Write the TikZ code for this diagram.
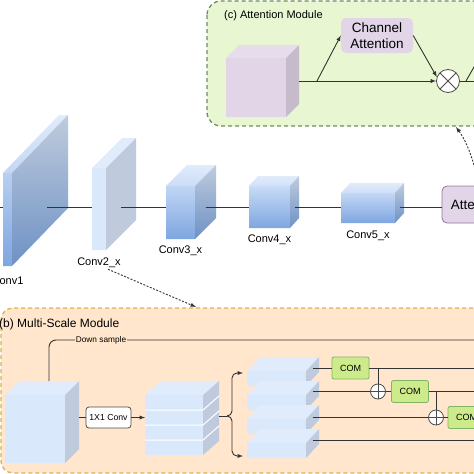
\documentclass[tikz,border=0pt]{standalone}
\usepackage{fontspec}
\setmainfont{Liberation Sans}
\usetikzlibrary{positioning}

\definecolor{blueA}{HTML}{DAE8FC}
\definecolor{blueB}{HTML}{7EA6E0}
\definecolor{purp}{HTML}{E1D5E7}
\definecolor{purpline}{HTML}{9673A6}
\definecolor{greenbg}{HTML}{E8F7D2}
\definecolor{greenline}{HTML}{6F8F55}
\definecolor{orangebg}{HTML}{FFE6CC}
\definecolor{orangeline}{HTML}{D6B656}
\definecolor{comfill}{HTML}{CDEB8B}
\definecolor{comline}{HTML}{82B366}

% cube: name, x, y (front top left), width, height, depth x, depth y, look
\newcommand{\blockcube}[8]{%
    \path[#8] (#2,#3) -- ++(#6,-#7) -- ++(#4,0) -- ++(0,#5) -- ++(-#6,#7) -- ++(-#4,0) -- cycle;
    \fill[black, opacity=.12] ({#2+#4},#3) -- ++(#6,-#7) -- ++(0,#5) -- ++(-#6,#7) -- cycle;
    \fill[white, opacity=.18] (#2,#3) -- ++(#6,-#7) -- ++(#4,0) -- ++(-#6,#7) -- cycle;
    \node[inner sep=0pt, outer sep=0pt, minimum width=#4, minimum height=#5] (#1) at ({#2+#4/2},{#3+#5/2}) {};
    \coordinate (#1-out) at ({#2+#4+#6/2},{#3+#5/2-#7/2});
    \coordinate (#1-rim) at ({#2+#4+#6},{#3+#5/2-#7/2});
}

\begin{document}
\begin{tikzpicture}[x=1pt, y=-1pt,
    lbl/.style={font=\fontsize{11}{13}\selectfont, inner sep=1pt},
    link/.style={draw=black!80, line width=0.9pt},
    dotlink/.style={draw=black!80, line width=0.9pt, dash pattern=on 2pt off 1.5pt, -latex},
    bluecube/.style={top color=blueA, bottom color=blueB},
    greenpanel/.style={draw=greenline, fill=greenbg, line width=1.3pt, dash pattern=on 4pt off 3pt, rounded corners=14},
    orangepanel/.style={draw=orangeline, fill=orangebg, line width=1.3pt, dash pattern=on 4pt off 3pt, rounded corners=12},
    purpbox/.style={fill=purp, rounded corners=5, align=center, font=\fontsize{13.5}{16}\selectfont},
    attbox/.style={fill=purp, draw=purpline, line width=0.8pt, rounded corners=5, font=\fontsize{13.5}{16}\selectfont},
    convbox/.style={fill=white, draw=black!70, line width=0.8pt, rounded corners=3, minimum width=45, minimum height=21, inner sep=0pt, font=\fontsize{8.7}{10}\selectfont},
    combox/.style={fill=comfill, draw=comline, line width=0.8pt, rounded corners=2, minimum width=37, minimum height=22, inner sep=0pt, font=\fontsize{9}{10}\selectfont},
    mulop/.style={circle, draw=black!70, fill=white, line width=0.8pt, minimum size=23, inner sep=0pt,
        path picture={\draw[black!70, line width=0.8pt] (path picture bounding box.north west) -- (path picture bounding box.south east)
            (path picture bounding box.north east) -- (path picture bounding box.south west);}},
    addop/.style={circle, draw=black!70, fill=white, line width=0.8pt, minimum size=15, inner sep=0pt,
        path picture={\draw[black!70, line width=0.8pt] (path picture bounding box.north) -- (path picture bounding box.south)
            (path picture bounding box.west) -- (path picture bounding box.east);}}]
    \useasboundingbox (0,0) rectangle (474,474);
    \clip (0,0) rectangle (474,474);

    % (c) attention module
    \draw[greenpanel] (207,1) rectangle (520,126);
    \node[lbl, anchor=west] (ctitle) at (223,16) {(c) Attention Module};
    \blockcube{feat}{226}{58}{60}{59}{13}{13}{fill=purp}
    \node[purpbox, minimum width=72, minimum height=35] (ca) at (377,35.5) {Channel\\Attention};
    \node[mulop] (mul) at (448,81) {};
    \coordinate (fork) at (317,81);
    \coordinate (cbend) at (466,81);
    \coordinate (cup) at (482,53);
    \coordinate (cend) at (480,81);
    \draw[link, -latex] (feat-rim |- mul) -- (mul);
    \draw[link, -latex] (fork) -- (ca.west);
    \draw[link, -latex] (ca.east) -- (mul.160);
    \draw[link] (mul) -- (cend);
    \draw[link] (cbend) -- (cup);

    % backbone
    \pgfmathsetmacro{\spiney}{207}; % main line
    \coordinate (spine) at (-5,\spiney);
    \blockcube{c1}{3}{173}{9}{93}{56}{58}{bluecube}
    \blockcube{c2}{92}{168}{14}{82}{30}{30}{fill=blueA}
    \blockcube{c3}{166}{186}{29}{53}{21}{21}{bluecube}
    \blockcube{c4}{249}{186}{41}{42}{9}{10}{bluecube}
    \blockcube{c5}{341}{193}{54}{30}{9}{10}{bluecube}
    \node[attbox, minimum width=71, minimum height=37] (att) at (477.5,204.5) {Attention};
    \draw[link] (spine) -- (c1.west |- spine);
    \draw[link] ([xshift=7pt]c1-out |- spine) -- (c2.west |- spine);
    \draw[link] (c2-out |- spine) -- (c3.west |- spine);
    \draw[link] (c3-out |- spine) -- (c4.west |- spine);
    \draw[link] (c4-out |- spine) -- (c5.west |- spine);
    \draw[link] (c5-out |- spine) -- (att.west |- spine);
    \node[lbl, below=10pt of c1] (c1-lbl) {Conv1};
    \node[lbl, below=7pt of c2] (c2-lbl) {Conv2\_x};
    \node[lbl, below=6pt of c3] (c3-lbl) {Conv3\_x};
    \node[lbl, below=6pt of c4] (c4-lbl) {Conv4\_x};
    \node[lbl, below=7pt of c5] (c5-lbl) {Conv5\_x};
    \coordinate (chook) at (456,127);
    \coordinate (bhook) at (196,307);
    \draw[dotlink] (att.north) .. controls (476,165) and (467,142) .. (chook);

    % (b) multi-scale module
    \draw[orangepanel] (1,308) rectangle (520,473);
    \draw[dotlink] ([xshift=9pt]c2-lbl.south) -- (bhook);
    \node[lbl, font=\fontsize{12}{14}\selectfont, anchor=west, inner sep=0pt] (btitle) at (-1,324) {(b) Multi-Scale Module};
    \blockcube{msin}{5}{395}{60}{68}{14}{14}{fill=blueA}
    \node[convbox] (conv) at (108.5,417.5) {1X1 Conv};
    \blockcube{stack}{145}{395}{58}{60}{16}{14}{fill=blueA}
    \foreach \yy in {410,425,440}
        \draw[white, line width=1pt] (145,\yy) -- ++(58,0) -- ++(16,-14);
    \foreach \k/\yy in {1/371,2/395,3/419,4/443}
        \blockcube{s\k}{247}{\yy}{59}{15}{13}{14}{fill=blueA}
    \coordinate (ds) at (49,381);
    \coordinate (dsend) at (480,340);
    \draw[link, rounded corners=7] (ds) |- (dsend);
    \node[fill=orangebg, inner sep=1pt, font=\fontsize{8.3}{10}\selectfont] (dslbl) at (101,340) {Down sample};
    \draw[link] (msin-rim |- conv.west) -- (conv.west);
    \draw[link, -latex] (conv.east) -- (stack.west |- conv.east);
    \coordinate (split) at (227,416);
    \coordinate (s1-tip) at (243,373);
    \coordinate (s4-tip) at (243,456);
    \draw[link] (stack-rim |- split) -- (split);
    \draw[link, -latex, rounded corners=5] (split) -| (232,373) -- (s1-tip);
    \draw[link, -latex, rounded corners=5] (split) -| (232,456) -- (s4-tip);

    \node[combox] (com1) at (350.5,368) {COM};
    \node[addop] (p1) at (378,391.5) {};
    \node[combox] (com2) at (410,391.5) {COM};
    \node[addop] (p2) at (436,417.5) {};
    \node[combox] (com3) at (466.5,417.5) {COM};
    \coordinate (com1-end) at (480,368);
    \coordinate (com2-end) at (480,391.5);
    \coordinate (l4) at (480,440);
    \draw[link] (s1-out |- com1) -- (com1);
    \draw[link] (com1) -- (com1-end);
    \draw[link] (p1 |- com1) -- (p1);
    \draw[link] (s2-out |- p1) -- (p1);
    \draw[link] (p1) -- (com2);
    \draw[link] (com2) -- (com2-end);
    \draw[link] (p2 |- com2) -- (p2);
    \draw[link] (s3-out |- p2) -- (p2);
    \draw[link] (p2) -- (com3);
    \draw[link] (s4-out |- l4) -- (l4);
\end{tikzpicture}
\end{document}
